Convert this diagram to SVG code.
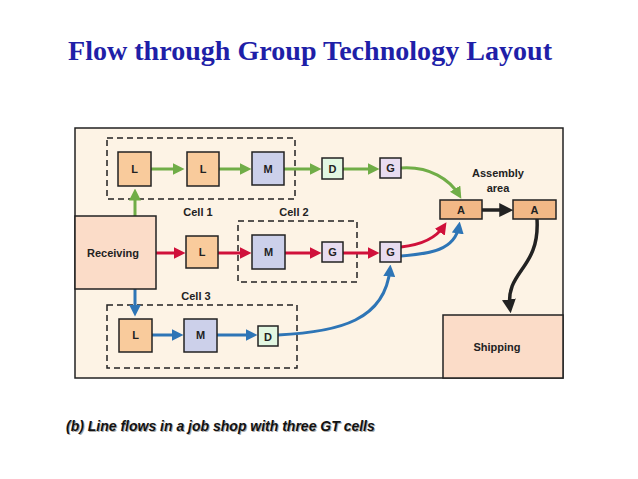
<svg xmlns="http://www.w3.org/2000/svg" width="638" height="479" viewBox="0 0 638 479">
<style>
.n{stroke:#222;stroke-width:1.5}
.or{fill:#f9cb9c}.pu{fill:#ccd0ea}.gr{fill:#e2f7e2}.pk{fill:#e8dcf0}.ab{fill:#f2b886}.rc{fill:#fbdcc8}
.t{font-family:"Liberation Sans",Arial,sans-serif;font-weight:bold;font-size:11px;fill:#222;text-anchor:middle}
.cell{fill:none;stroke:#222;stroke-width:1.5;stroke-dasharray:6 4}
.g{stroke:#70ad47;stroke-width:3;fill:none}
.r{stroke:#d0103a;stroke-width:3;fill:none}
.b{stroke:#2e75b6;stroke-width:3;fill:none}
.k{stroke:#222;stroke-width:3.5;fill:none}
</style>
<defs>
<marker id="mg" markerWidth="4" markerHeight="4" refX="2.5" refY="2" orient="auto"><path d="M0,0L4,2L0,4z" fill="#70ad47"/></marker>
<marker id="mr" markerWidth="4" markerHeight="4" refX="2.5" refY="2" orient="auto"><path d="M0,0L4,2L0,4z" fill="#d0103a"/></marker>
<marker id="mb" markerWidth="4" markerHeight="4" refX="2.5" refY="2" orient="auto"><path d="M0,0L4,2L0,4z" fill="#2e75b6"/></marker>
<marker id="mk" markerWidth="4" markerHeight="4" refX="2.5" refY="2" orient="auto"><path d="M0,0L4,2L0,4z" fill="#222"/></marker>
</defs>
<rect width="638" height="479" fill="#fff"/>
<text x="310" y="60" font-family="Liberation Serif,serif" font-weight="bold" font-size="27" fill="#1f1fa8" text-anchor="middle" textLength="484" lengthAdjust="spacingAndGlyphs">Flow through Group Technology Layout</text>
<rect x="75" y="128" width="488" height="250" fill="#fdf3e5" stroke="#222" stroke-width="1.5"/>
<rect class="cell" x="107" y="138" width="188" height="61"/>
<rect class="cell" x="238" y="221" width="119" height="61"/>
<rect class="cell" x="107" y="305" width="190" height="63"/>
<g id="connectors">
<path class="g" d="M151,169H180" marker-end="url(#mg)"/>
<path class="g" d="M219,169H247" marker-end="url(#mg)"/>
<path class="g" d="M284,169H317" marker-end="url(#mg)"/>
<path class="g" d="M343,169H375" marker-end="url(#mg)"/>
<path class="g" d="M135,216V193" marker-end="url(#mg)"/>
<path class="g" d="M401,168C430,166 450,180 459,195" marker-end="url(#mg)"/>
<path class="r" d="M156,253H181" marker-end="url(#mr)"/>
<path class="r" d="M218,253H247" marker-end="url(#mr)"/>
<path class="r" d="M285,253H317" marker-end="url(#mr)"/>
<path class="r" d="M343,253H375" marker-end="url(#mr)"/>
<path class="r" d="M401,247C420,245 436,238 444,226" marker-end="url(#mr)"/>
<path class="b" d="M401,256C430,254 455,250 459,226" marker-end="url(#mb)"/>
<path class="b" d="M135,289V312" marker-end="url(#mb)"/>
<path class="b" d="M152,335H179" marker-end="url(#mb)"/>
<path class="b" d="M217,335H253" marker-end="url(#mb)"/>
<path class="b" d="M278,335C340,332 385,320 390,269" marker-end="url(#mb)"/>
<path class="k" d="M482,210H508" marker-end="url(#mk)"/>
<path class="k" d="M537,219C540,270 505,270 510,308" marker-end="url(#mk)"/>
</g>
<g id="receiving"><rect class="n rc" x="75" y="216" width="81" height="73"/><text class="t" x="113" y="257">Receiving</text></g>
<g id="L1"><rect class="n or" x="118" y="152" width="33" height="34"/><text class="t" x="134.5" y="173">L</text></g>
<g id="L2"><rect class="n or" x="187" y="152" width="32" height="34"/><text class="t" x="203" y="173">L</text></g>
<g id="M1"><rect class="n pu" x="252" y="152" width="32" height="33"/><text class="t" x="268" y="173">M</text></g>
<g id="D1"><rect class="n gr" x="322" y="158" width="21" height="21"/><text class="t" x="332.5" y="173">D</text></g>
<g id="G1"><rect class="n pk" x="380" y="158" width="21" height="20"/><text class="t" x="390.5" y="172">G</text></g>
<g id="L4"><rect class="n or" x="186" y="236" width="32" height="32"/><text class="t" x="202" y="256">L</text></g>
<g id="M2"><rect class="n pu" x="252" y="235" width="33" height="34"/><text class="t" x="268.5" y="256">M</text></g>
<g id="G2"><rect class="n pk" x="322" y="242" width="21" height="20"/><text class="t" x="332.5" y="256">G</text></g>
<g id="G3"><rect class="n pk" x="380" y="242" width="21" height="20"/><text class="t" x="390.5" y="256">G</text></g>
<g id="L3"><rect class="n or" x="119" y="319" width="33" height="33"/><text class="t" x="135.5" y="339">L</text></g>
<g id="M3"><rect class="n pu" x="184" y="319" width="33" height="33"/><text class="t" x="200.5" y="339">M</text></g>
<g id="D3"><rect class="n gr" x="258" y="326" width="20" height="20"/><text class="t" x="268" y="341">D</text></g>
<g id="A1"><rect class="n ab" x="440" y="200" width="42" height="19"/><text class="t" x="461" y="214">A</text></g>
<g id="A2"><rect class="n ab" x="513" y="200" width="43" height="19"/><text class="t" x="534.5" y="214">A</text></g>
<g id="shipping"><rect class="n rc" x="443" y="315" width="120" height="63"/><text class="t" x="497" y="351">Shipping</text></g>
<text class="t" x="198" y="216">Cell 1</text>
<text class="t" x="294" y="216">Cell 2</text>
<text class="t" x="196" y="300">Cell 3</text>
<text class="t" x="498" y="177">Assembly</text>
<text class="t" x="498" y="192">area</text>
<text x="67" y="432" font-family="Liberation Sans,Arial,sans-serif" font-weight="bold" font-style="italic" font-size="14" fill="#aaa">(b) Line flows in a job shop with three GT cells</text>
<text x="66" y="431" font-family="Liberation Sans,Arial,sans-serif" font-weight="bold" font-style="italic" font-size="14" fill="#111">(b) Line flows in a job shop with three GT cells</text>
</svg>
